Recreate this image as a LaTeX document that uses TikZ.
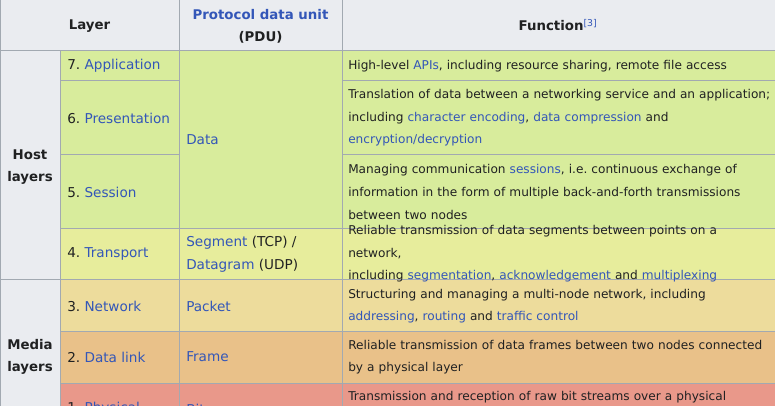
\documentclass[tikz,border=0pt]{standalone}
\usepackage{fontspec}
\setmainfont{DejaVu Sans}
\definecolor{hd}{HTML}{EAECF0}
\definecolor{gr}{HTML}{D8EC9C}
\definecolor{tr}{HTML}{E7ED9C}
\definecolor{nw}{HTML}{EDDC9C}
\definecolor{dl}{HTML}{E9C189}
\definecolor{ph}{HTML}{E9988A}
\definecolor{bd}{HTML}{A2A9B1}
\definecolor{lk}{HTML}{3356B8}
\definecolor{tx}{HTML}{202122}
\newcommand{\lk}[1]{\textcolor{lk}{#1}}
\hyphenpenalty=10000 \exhyphenpenalty=10000 \frenchspacing
\begin{document}
\begin{tikzpicture}[x=0.75pt,y=-0.75pt,
 cell/.style={draw=bd,line width=0.75pt},
 nm/.style={anchor=west,inner sep=0,text=tx,font=\fontsize{10.2}{13}\selectfont},
 fn/.style={anchor=west,inner sep=0,text=tx,text width=425*0.75pt,align=left,font=\fontsize{9.1}{16.9}\selectfont},
 hdr/.style={inner sep=0,text=tx,align=center,font=\bfseries\fontsize{10}{16.5}\selectfont}]
\useasboundingbox (0,0) rectangle (775,406);
\begin{scope}
\clip (0,0) rectangle (775,406);
\fill[hd] (0,0) rectangle (775,51);
\draw[cell] (0,0) rectangle (179,51) (179,0) rectangle (342,51) (342,0) rectangle (775,51);
\draw[cell,fill=hd] (0,51) rectangle (60,279);
\draw[cell,fill=hd] (0,279) rectangle (60,440);
\draw[cell,fill=gr] (60,51) rectangle (179,81) (342,51) rectangle (775,81);
\draw[cell,fill=gr] (60,81) rectangle (179,155) (342,81) rectangle (775,155);
\draw[cell,fill=gr] (60,155) rectangle (179,229) (342,155) rectangle (775,229);
\draw[cell,fill=gr] (179,51) rectangle (342,229);
\draw[cell,fill=tr] (60,229) rectangle (179,279) (179,229) rectangle (342,279) (342,229) rectangle (775,279);
\draw[cell,fill=nw] (60,279) rectangle (179,331) (179,279) rectangle (342,331) (342,279) rectangle (775,331);
\draw[cell,fill=dl] (60,331) rectangle (179,383) (179,331) rectangle (342,383) (342,331) rectangle (775,383);
\draw[cell,fill=ph] (60,383) rectangle (179,440) (179,383) rectangle (342,440) (342,383) rectangle (775,440);
\node[hdr] (hl) at (89.5,26) {Layer};
\node[hdr] (hp) at (260.5,26) {\textcolor{lk}{Protocol data unit}\\(PDU)};
\node[hdr] (hf) at (558,25) {Function\textsuperscript{\mdseries\lk{[3]}}};
\node[hdr] (gh) at (30,167) {Host\\layers};
\node[hdr] (gm) at (30,357) {Media\\layers};
\node[nm] (n7) at (67,66) {7. \lk{Application}};
\node[nm] (n6) at (67,118) {6. \lk{Presentation}};
\node[nm] (n5) at (67,192) {5. \lk{Session}};
\node[nm] (n4) at (67,254) {4. \lk{Transport}};
\node[nm] (n3) at (67,306) {3. \lk{Network}};
\node[nm] (n2) at (67,357) {2. \lk{Data link}};
\node[nm] (n1) at (67,409) {1. \lk{Physical}};
\node[nm] (p1) at (186,140) {\lk{Data}};
\node[nm,align=left,font=\fontsize{10.2}{16.9}\selectfont] (p2) at (186,254) {\lk{Segment} (TCP) /\\\lk{Datagram} (UDP)};
\node[nm] (p3) at (186,306) {\lk{Packet}};
\node[nm] (p4) at (186,357) {\lk{Frame}};
\node[nm] (p5) at (186,409) {\lk{Bit}};
\node[fn] (f7) at (348,66) {High-level \lk{APIs}, including resource sharing, remote file access};
\node[fn] (f6) at (348,118) {Translation of data between a networking service and an application;\\including \lk{character encoding}, \lk{data compression} and\\\lk{encryption/decryption}};
\node[fn] (f5) at (348,192) {Managing communication \lk{sessions}, i.e. continuous exchange of\\information in the form of multiple back-and-forth transmissions\\between two nodes};
\node[fn] (f4) at (348,254) {Reliable transmission of data segments between points on a network,\\including \lk{segmentation}, \lk{acknowledgement} and \lk{multiplexing}};
\node[fn] (f3) at (348,306) {Structuring and managing a multi-node network, including\\\lk{addressing}, \lk{routing} and \lk{traffic control}};
\node[fn] (f2) at (348,357) {Reliable transmission of data frames between two nodes connected\\by a physical layer};
\node[fn] (f1) at (348,407) {Transmission and reception of raw bit streams over a physical\\medium};
\end{scope}
\end{tikzpicture}
\end{document}
